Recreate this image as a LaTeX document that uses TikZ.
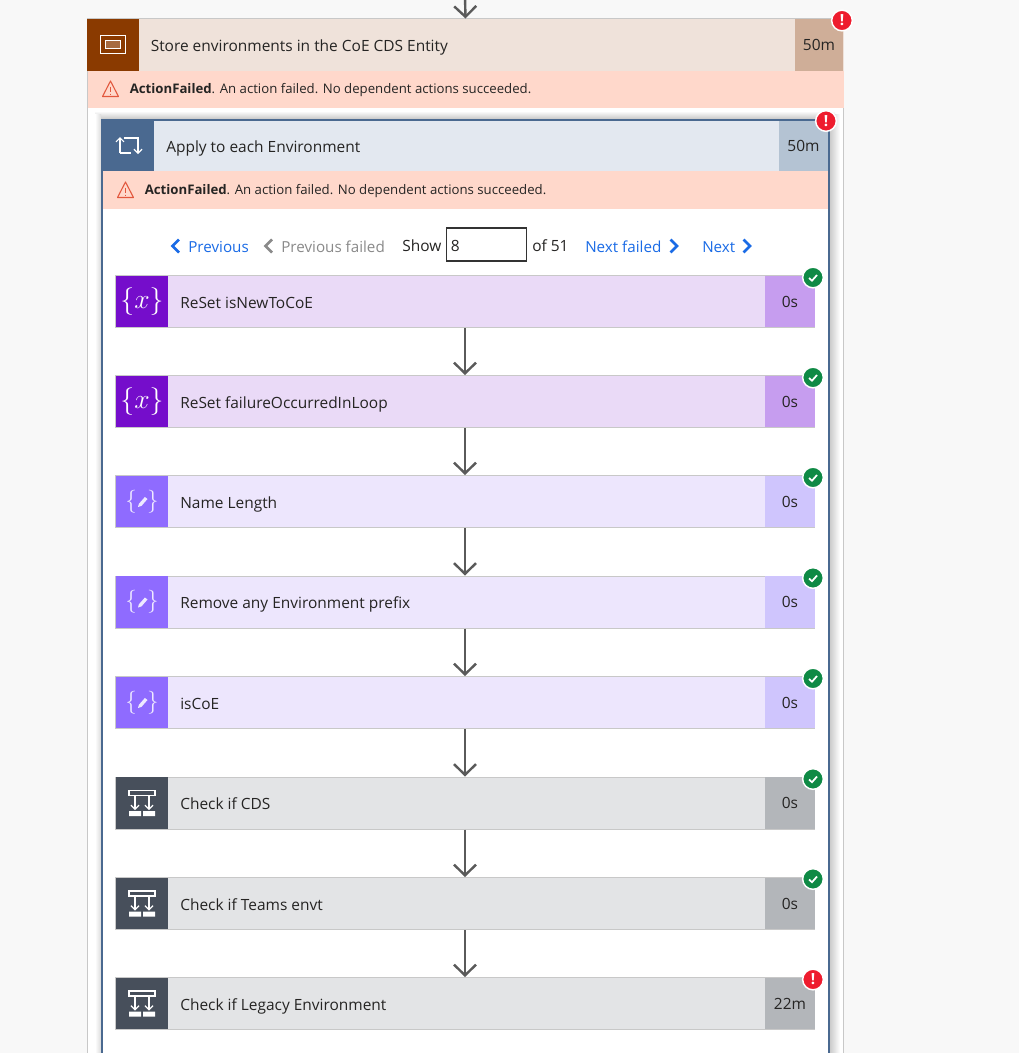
\documentclass[tikz,border=0pt]{standalone}
\usepackage{fontspec}
\setmainfont{Open Sans}
\usetikzlibrary{arrows.meta}
\definecolor{pagebg}{HTML}{F8F8F8}
\definecolor{rim}{HTML}{C8C8C8}
\definecolor{errbg}{HTML}{FFD8CB}
\definecolor{errline}{HTML}{E2573D}
\definecolor{storeicon}{HTML}{8A3A00}
\definecolor{storebody}{HTML}{EFE2DA}
\definecolor{storedur}{HTML}{CFAE98}
\definecolor{applyblue}{HTML}{4A6990}
\definecolor{applybody}{HTML}{E3E8F0}
\definecolor{applydur}{HTML}{B4C3D3}
\definecolor{navblue}{HTML}{1A6BE6}
\definecolor{navgrey}{HTML}{8A8A8A}
\definecolor{inktext}{HTML}{252423}
\definecolor{flowgrey}{HTML}{5A5A5A}
\definecolor{okgreen}{HTML}{0F8A45}
\definecolor{badred}{HTML}{EE1C2E}
\definecolor{varicon}{HTML}{750DCB}
\definecolor{varbody}{HTML}{EADAF7}
\definecolor{vardur}{HTML}{C69DEF}
\definecolor{composeicon}{HTML}{8F6BFF}
\definecolor{composebody}{HTML}{EDE6FD}
\definecolor{composedur}{HTML}{CFC5FD}
\definecolor{condicon}{HTML}{474F5B}
\definecolor{condbody}{HTML}{E3E4E6}
\definecolor{conddur}{HTML}{B3B6BA}
\tikzset{
  txt/.style={font=\fontsize{11.6}{13}\selectfont, text=inktext, inner sep=0pt, text height=8.3pt, text depth=0pt},
  title/.style={txt, anchor=west},
  errtxt/.style={font=\fontsize{9.9}{12}\selectfont, text=inktext, inner sep=0pt, anchor=west, text height=7.2pt, text depth=0pt},
  navtxt/.style={txt, anchor=west, text=navblue, font=\fontsize{11.4}{13}\selectfont},
  cardbox/.style={rectangle, draw=rim, line width=.75pt, minimum width=524.5pt, minimum height=39pt, inner sep=0pt},
  iconbox/.style={rectangle, minimum width=39.5pt, minimum height=38.6pt, inner sep=0pt, text=white},
  durbox/.style={txt, rectangle, minimum width=37.2pt, minimum height=38.6pt},
  varicn/.style={iconbox, fill=varicon, font=\fontsize{21}{21}\selectfont},
  compicn/.style={iconbox, fill=composeicon, text=white!85!composeicon, font=\fontsize{17}{17}\selectfont},
  condicn/.style={iconbox, fill=condicon},
  flowarrow/.style={draw=flowgrey, line width=1.8pt, -{Straight Barb[length=8pt, width=16.5pt, line width=1.8pt]}},
  okbadge/.style={circle, fill=okgreen, draw=white, line width=1.1pt, minimum size=15.5pt, inner sep=0pt},
  failbadge/.style={circle, fill=badred, draw=white, line width=1.1pt, minimum size=15.5pt, inner sep=0pt, text=white, font=\fontsize{11.5}{11.5}\selectfont\bfseries},
  warnpic/.pic={
    \draw[errline, line width=.8pt, line join=round] (-8,7.5) -- (0,-8) -- (8,7.5) -- cycle;
    \draw[errline, line width=.8pt] (0,-2.5) -- (0,3) (0,4.5) -- (0,5.8);
  },
  chevleft/.pic={\draw[pic actions, line width=2pt] (3.5,-6.5) -- (-3,0) -- (3.5,6.5);},
  chevright/.pic={\draw[pic actions, line width=2pt] (-3.5,-6.5) -- (3,0) -- (-3.5,6.5);},
  checkpic/.pic={\draw[white, line width=1.3pt] (-4,0.5) -- (-1,3.2) -- (4,-2.5);},
  pencilpic/.pic={
    \fill[white!85!composeicon, line join=round] (-4.5,5) -- (-3.6,1.8) -- (2.4,-5) -- (5,-3) -- (-1,3.9) -- cycle;
  },
  branchpic/.pic={
    \draw[white, line width=.9pt] (-13,-12.5) rectangle (13,-7.5);
    \draw[white, line width=.9pt, -{Straight Barb[length=3pt, width=6pt, line width=.9pt]}] (-7,-7.5) -- (-7,7);
    \draw[white, line width=.9pt, -{Straight Barb[length=3pt, width=6pt, line width=.9pt]}] (7,-7.5) -- (7,7);
    \fill[white] (-13,8) rectangle (-1,13) (1,8) rectangle (13,13);
  },
}
\begin{document}
\begin{tikzpicture}[x=.75pt, y=-.75pt]
\useasboundingbox (0,0) rectangle (1019,1053);
\clip (0,0) rectangle (1019,1053);
\fill[pagebg] (0,0) rectangle (1019,1053);
% outer scope
\draw[rim, fill=white, line width=.75pt] (87,18.5) rectangle (843.5,1070);
\node[rectangle, fill=errbg, minimum width=567pt, minimum height=27.75pt, inner sep=0pt] (storeerr) at (465.5,89.5){};
\node[cardbox, fill=storebody, minimum width=567pt, draw=none] (store) at (465.5,45){};
\node[iconbox, fill=storeicon] (storeicn) at (113,45){};
\node[durbox, fill=storedur, minimum width=36pt] (storedurn) at (819,45){50m};
\node[title] (storetxt) at (150.5,45.5){Store environments in the CoE CDS Entity};
\draw[white, line width=.9pt] (100.5,35.5) rectangle (125.5,53.5);
\draw[white, line width=.9pt, fill=white, fill opacity=.25] (105.5,40.5) rectangle (120.5,48.5);
\pic at (110.5,89) {warnpic};
\node[errtxt] (storeerrtxt) at (129.5,89){\textbf{ActionFailed}. An action failed. No dependent actions succeeded.};
\node[failbadge] (storebad) at (842,20.5){!};
% shadow of the loop
\shade[left color=black!22, right color=white] (829,114) rectangle (840,1070);
\shade[bottom color=black!22, top color=white] (95,111) rectangle (835,119);
\shade[right color=black!14, left color=white] (95,114) rectangle (101,1070);
% loop
\draw[applyblue, fill=white, line width=1.5pt] (101.5,119.5) rectangle (828.5,1070);
\node[rectangle, fill=errbg, minimum width=543.5pt, minimum height=28.5pt, inner sep=0pt] (applyerr) at (465.3,190){};
\node[cardbox, fill=applybody, minimum width=543.5pt, minimum height=38pt, draw=none] (apply) at (465.3,146){};
\node[iconbox, fill=applyblue, minimum width=38.25pt, minimum height=38pt] (applyicn) at (128.5,146){};
\node[durbox, fill=applydur, minimum width=36.7pt, minimum height=38pt] (applydurn) at (803.5,146){50m};
\node[title] (applytxt) at (166,146.5){Apply to each Environment};
\draw[white, line width=.9pt, -{Straight Barb[length=3pt, width=6pt, line width=.9pt]}] (120,153) -- (120,137);
\draw[white, line width=.9pt] (120,153) -- (131,153);
\draw[white, line width=.9pt, -{Straight Barb[length=3pt, width=6pt, line width=.9pt]}] (124,138) -- (138,138) -- (138,154);
\pic at (125.5,190) {warnpic};
\node[errtxt] (applyerrtxt) at (144.5,190){\textbf{ActionFailed}. An action failed. No dependent actions succeeded.};
\node[failbadge] (applybad) at (826,121){!};
% paging
\pic[color=navblue] at (175.5,246) {chevleft};
\node[navtxt] (prev) at (188,246.5){Previous};
\pic[color=navgrey] at (268.5,246) {chevleft};
\node[navtxt, text=navgrey] (prevfail) at (281,246.5){Previous failed};
\node[title] (show) at (402,245.5){Show};
\node[txt, draw=black!80, line width=1.1pt, minimum width=60pt, minimum height=24.5pt, anchor=west, text width=53pt, align=left, text height=10pt] (pagebox) at (445.5,244.5){8};
\node[title] (ofn) at (532,245.5){of 51};
\node[navtxt] (nextfail) at (585,246.5){Next failed};
\pic[color=navblue] at (674,246) {chevright};
\node[navtxt] (nextn) at (702,246.5){Next};
\pic[color=navblue] at (747,246) {chevright};
% action cards
\node[cardbox, fill=varbody] (a1) at (465,301.5){};
\node[varicn] (a1icn) at (142,301.5){$\{x\}$};
\node[durbox, fill=vardur] (a1dur) at (790,301.5){0s};
\node[title] (a1txt) at (180,302.5){ReSet isNewToCoE};
\node[okbadge] (a1ok) at (813,277.5){};
\pic at (813,277.5) {checkpic};
\node[cardbox, fill=varbody] (a2) at (465,401.5){};
\node[varicn] (a2icn) at (142,401.5){$\{x\}$};
\node[durbox, fill=vardur] (a2dur) at (790,401.5){0s};
\node[title] (a2txt) at (180,402.5){ReSet failureOccurredInLoop};
\node[okbadge] (a2ok) at (813,377.5){};
\pic at (813,377.5) {checkpic};
\node[cardbox, fill=composebody] (a3) at (465,501.5){};
\node[compicn] (a3icn) at (142,501.5){$\{\;\,\}$};
\pic at (142.5,502) {pencilpic};
\node[durbox, fill=composedur] (a3dur) at (790,501.5){0s};
\node[title] (a3txt) at (180,502.5){Name Length};
\node[okbadge] (a3ok) at (813,477.5){};
\pic at (813,477.5) {checkpic};
\node[cardbox, fill=composebody] (a4) at (465,602){};
\node[compicn] (a4icn) at (142,602){$\{\;\,\}$};
\pic at (142.5,602.5) {pencilpic};
\node[durbox, fill=composedur] (a4dur) at (790,602){0s};
\node[title] (a4txt) at (180,603){Remove any Environment prefix};
\node[okbadge] (a4ok) at (813,578){};
\pic at (813,578) {checkpic};
\node[cardbox, fill=composebody] (a5) at (465,702.5){};
\node[compicn] (a5icn) at (142,702.5){$\{\;\,\}$};
\pic at (142.5,703) {pencilpic};
\node[durbox, fill=composedur] (a5dur) at (790,702.5){0s};
\node[title] (a5txt) at (180,703.5){isCoE};
\node[okbadge] (a5ok) at (813,678.5){};
\pic at (813,678.5) {checkpic};
\node[cardbox, fill=condbody] (a6) at (465,803){};
\node[condicn] (a6icn) at (142,803){};
\pic at (142,803) {branchpic};
\node[durbox, fill=conddur] (a6dur) at (790,803){0s};
\node[title] (a6txt) at (180,803.5){Check if CDS};
\node[okbadge] (a6ok) at (813,779){};
\pic at (813,779) {checkpic};
\node[cardbox, fill=condbody] (a7) at (465,903.5){};
\node[condicn] (a7icn) at (142,903.5){};
\pic at (142,903.5) {branchpic};
\node[durbox, fill=conddur] (a7dur) at (790,903.5){0s};
\node[title] (a7txt) at (180,904.5){Check if Teams envt};
\node[okbadge] (a7ok) at (813,879){};
\pic at (813,879) {checkpic};
\node[cardbox, fill=condbody] (a8) at (465,1003.5){};
\node[condicn] (a8icn) at (142,1003.5){};
\pic at (142,1003.5) {branchpic};
\node[durbox, fill=conddur] (a8dur) at (790,1003.5){22m};
\node[title] (a8txt) at (180,1004.5){Check if Legacy Environment};
\node[failbadge] (a8bad) at (813,979.5){!};
% connectors
\coordinate (topin) at (465,-4);
\draw[flowarrow] (topin) -- (store.north);
\draw[flowarrow] (a1) -- (a2);
\draw[flowarrow] (a2) -- (a3);
\draw[flowarrow] (a3) -- (a4);
\draw[flowarrow] (a4) -- (a5);
\draw[flowarrow] (a5) -- (a6);
\draw[flowarrow] (a6) -- (a7);
\draw[flowarrow] (a7) -- (a8);
\end{tikzpicture}
\end{document}
